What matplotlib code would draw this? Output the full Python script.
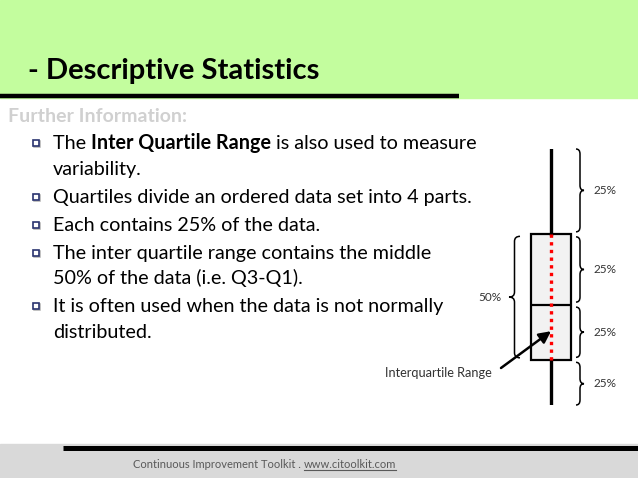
import matplotlib
matplotlib.use("Agg")
import matplotlib.pyplot as plt
from matplotlib.path import Path
from matplotlib.patches import PathPatch, Rectangle, FancyArrowPatch

# slide content
title = "- Descriptive Statistics"
subtitle = "Further Information:"
bullets = [
    [[("The ", "normal"), ("Inter Quartile Range", "bold"), (" is also used to measure", "normal")],
     [("variability.", "normal")]],
    [[("Quartiles divide an ordered data set into 4 parts.", "normal")]],
    [[("Each contains 25% of the data.", "normal")]],
    [[("The inter quartile range contains the middle", "normal")],
     [("50% of the data (i.e. Q3-Q1).", "normal")]],
    [[("It is often used when the data is not normally", "normal")],
     [("distributed.", "normal")]],
]
footer_text = "Continuous Improvement Toolkit . "
footer_url = "www.citoolkit.com"

# box plot summary (arbitrary units)
whisker_low = 10
q1 = 19
median = 30
q3 = 44
whisker_high = 61
quarter_labels = ["25%", "25%", "25%", "25%"]
iqr_label = "50%"
arrow_label = "Interquartile Range"

W, H = 638, 478
fig = plt.figure(figsize=(W / 100, H / 100), dpi=100)
bg = fig.add_axes([0, 0, 1, 1])
bg.set_xlim(0, W)
bg.set_ylim(H, 0)
bg.axis("off")

FONT = "Lato"

# header band
bg.add_patch(Rectangle((0, 0), W, 98, color="#c3fd9e", zorder=0))
bg.plot([0, 459], [96, 96], color="black", lw=3.2, solid_capstyle="butt")
bg.text(28, 71, title, fontsize=21, fontweight="bold", family=FONT,
        va="center", ha="left", color="black")

# footer band
bg.add_patch(Rectangle((0, 444), W, H - 444, color="#d9d9d9", zorder=0))
bg.plot([63, W], [447.5, 447.5], color="black", lw=3.6, solid_capstyle="butt")

fig.canvas.draw()
renderer = fig.canvas.get_renderer()
inv = bg.transData.inverted()


def draw_runs(x, y, runs, size, color="black"):
    # draw text pieces one after another on the same line
    for txt, weight in runs:
        t = bg.text(x, y, txt, fontsize=size, fontweight=weight, family=FONT,
                    va="baseline", ha="left", color=color)
        bb = t.get_window_extent(renderer)
        x = inv.transform((bb.x1, bb.y0))[0]
    return x


bg.text(8, 122, subtitle, fontsize=14, fontweight="bold", family=FONT,
        color="#d0d0d0", va="baseline", ha="left")

line_y = 149
for item in bullets:
    bg.plot(35.5 + 1, line_y - 6 + 1, marker="s", ms=5, mfc="none", mec="#b0b0b0", mew=1.1)
    bg.plot(35.5, line_y - 6, marker="s", ms=5, mfc="white", mec="#2a3470", mew=1.2)
    for row in item:
        draw_runs(53, line_y, row, 14.2)
        line_y += 25.5
    line_y += 2.5

fx0 = 133
fx1 = draw_runs(fx0, 467.5, [(footer_text, "normal")], 8, color="#595959")
fx2 = draw_runs(fx1, 467.5, [(footer_url, "normal")], 8, color="#595959")
bg.plot([fx1, fx2], [470, 470], color="#595959", lw=0.8)

# box plot region, x in pixel units, y in data units
bx = fig.add_axes([460 / W, (H - 405) / H, (W - 460) / W, (405 - 149) / H])
bx.set_xlim(460, W)
bx.set_ylim(whisker_low, whisker_high)
bx.axis("off")
bx.patch.set_alpha(0)

center = 551
bx.bxp([{"whislo": whisker_low, "q1": q1, "med": median, "q3": q3,
         "whishi": whisker_high, "fliers": []}],
       positions=[center], widths=40, showcaps=False, patch_artist=True,
       boxprops=dict(facecolor="#f2f2f2", edgecolor="black", lw=1.6),
       whiskerprops=dict(color="black", lw=2.4),
       medianprops=dict(color="black", lw=1.6))
bx.plot([center, center], [q1, q3], color="#ff0000", lw=2.4, ls=(0, (1, 1.3)), zorder=5)


def px_y(v):
    return inv.transform(bx.transData.transform((center, v)))[1]


def brace(x_end, x_tip, y0, y1, r=5):
    # vertical curly brace; stem halfway between ends and tip
    xm = (x_end + x_tip) / 2
    ym = (y0 + y1) / 2
    verts = [(x_end, y0), (xm, y0), (xm, y0 + r),
             (xm, ym - r), (xm, ym), (x_tip, ym),
             (xm, ym), (xm, ym + r),
             (xm, y1 - r), (xm, y1), (x_end, y1)]
    codes = [Path.MOVETO, Path.CURVE3, Path.CURVE3,
             Path.LINETO, Path.CURVE3, Path.CURVE3,
             Path.CURVE3, Path.CURVE3,
             Path.LINETO, Path.CURVE3, Path.CURVE3]
    bg.add_patch(PathPatch(Path(verts, codes), fc="none", ec="black", lw=1.1))


edges = [whisker_high, q3, median, q1, whisker_low]
for i, lab in enumerate(quarter_labels):
    top = px_y(edges[i]) + (0 if i == 0 else 2.5)
    bot = px_y(edges[i + 1]) - (0 if i == 3 else 2.5)
    brace(576, 584, top, bot)
    bg.text(593, (top + bot) / 2, lab, fontsize=8.5, family=FONT,
            va="center", ha="left", color="#333333")

t3 = px_y(q3) + 2
t1 = px_y(q1) - 2
brace(520, 509, t3, t1)
bg.text(501, (t3 + t1) / 2, iqr_label, fontsize=8.5, family=FONT,
        va="center", ha="right", color="#333333")

# arrow added at figure level so it sits above the box axes
arrow = FancyArrowPatch((501, 368), (center, px_y((q1 + median) / 2) - 1),
                        transform=bg.transData, shrinkA=0, shrinkB=0,
                        arrowstyle="-|>,head_length=7,head_width=3.5",
                        color="black", lw=1.8, zorder=10)
fig.add_artist(arrow)
bg.text(438, 373, arrow_label, fontsize=9.2, family=FONT,
        va="center", ha="center", color="#333333")

fig.savefig("out.png", dpi=100)
